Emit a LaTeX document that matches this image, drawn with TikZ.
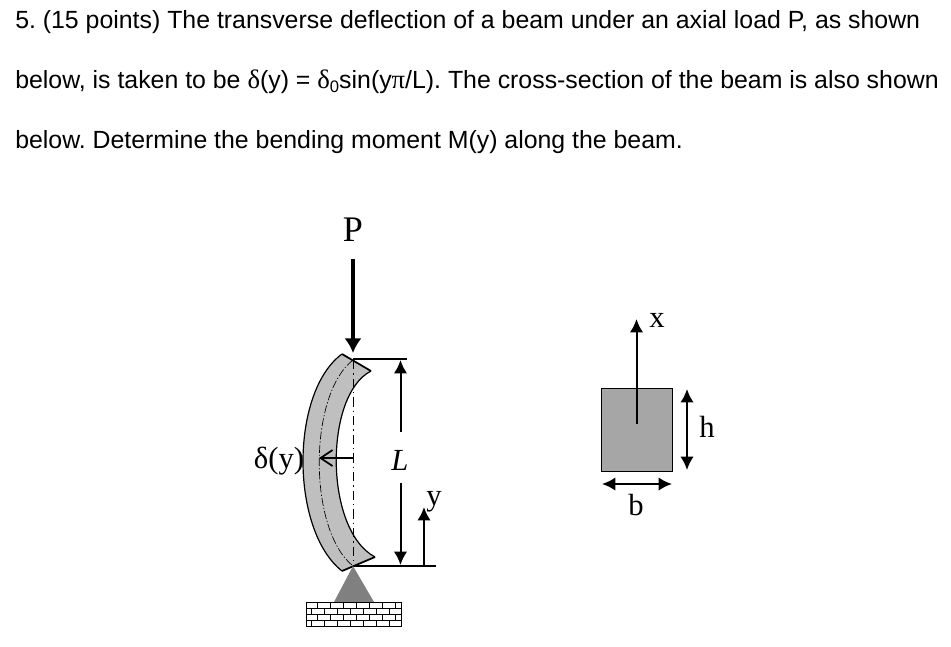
\documentclass[tikz,border=0pt]{standalone}
\usepackage{fontspec}
\setmainfont{Liberation Sans}
\newfontfamily\serifgr{Liberation Serif}
\usetikzlibrary{arrows.meta}
\tikzset{
  txtline/.style={anchor=base west,inner sep=0pt,font=\fontsize{18.65}{20}\selectfont},
  lab/.style={inner sep=0pt,font=\serifgr\fontsize{23}{25}\selectfont},
  dim/.style={line width=1.5pt,-{Latex[length=10pt,width=10pt]}},
  thin line/.style={line width=0.9pt}
}
\newcommand{\gr}[1]{{\serifgr\fontsize{20}{20}\selectfont #1}}
\frenchspacing
\begin{document}
\begin{tikzpicture}[x=0.75pt,y=-0.75pt]
  \useasboundingbox (0,0) rectangle (951,647);
  % problem text
  \node[txtline] (line1) at (15,28) {5. (15 points) The transverse deflection of a beam under an axial load P, as shown};
  \node[txtline] (line2) at (15,88) {below, is taken to be \gr{δ}(y) = \gr{δ}\raisebox{-3pt}{\fontsize{12.5}{12}\selectfont 0}sin(y\gr{π}/L). The cross-section of the beam is also shown};
  \node[txtline] (line3) at (15,148) {below. Determine the bending moment M(y) along the beam.};
  % beam
  \coordinate (tl) at (342,354);
  \coordinate (tr) at (371,371);
  \coordinate (bl) at (342,571);
  \coordinate (br) at (375,557);
  \coordinate (top) at (353,360);
  \coordinate (bot) at (353,566);
  \coordinate (mid) at (353,458);
  \coordinate (defl) at (319,458);
  \fill[black!25] (tl) .. controls (290,392) and (290,530) .. (bl) -- (br)
    .. controls (324,530) and (324,395) .. (tr) -- cycle;
  \draw[thin line] (tl) .. controls (290,392) and (290,530) .. (bl);
  \draw[thin line] (br) .. controls (324,530) and (324,395) .. (tr);
  \draw[line width=1.3pt] (tl) -- (tr);
  \draw[line width=1.3pt] (bl) -- (br);
  \draw[line width=0.5pt,dash pattern=on 6pt off 1.5pt on 1pt off 1.5pt] (top) .. controls (308,395) and (308,530) .. (bot);
  \draw[line width=0.6pt,dash pattern=on 7pt off 3pt on 1pt off 3pt] (top) -- (bot);
  \draw[line width=1.3pt,-{Straight Barb[length=9pt,width=12pt]}] (mid) -- (defl);
  % load
  \node[lab,font=\serifgr\fontsize{27}{29}\selectfont] (loadlab) at (353,230) {P};
  \coordinate (loadtop) at (353,259);
  \draw[line width=3.4pt,-{Latex[length=11pt,width=13pt]}] (loadtop) -- (353,353);
  % length and y axis
  \coordinate (tickt) at (407,359);
  \coordinate (tickb) at (436,566);
  \draw[line width=1.3pt] (top |- tickt) -- (tickt);
  \draw[line width=1.3pt] (bot) -- (tickb);
  \node[lab,font=\serifgr\itshape\fontsize{23}{25}\selectfont] (lenlab) at (400,460) {L};
  \draw[dim] (400.5,432) -- (400.5,360);
  \draw[dim] (400.5,483) -- (400.5,565);
  \draw[dim] (424,566) -- (424,507);
  \node[lab] (ylab) at (434,502) {y};
  \node[lab] (defllab) at (279,461) {δ(y)};
  % support
  \fill[black!50] (353,566) -- (374,602) -- (334,602) -- cycle;
  \draw[line width=0.7pt] (306.5,602.5) rectangle (401,626);
  \foreach \y in {608,614,620} \draw[line width=0.7pt] (306.5,\y) -- (401,\y);
  \foreach \x in {317,330,343,356,369,382,395} {
   \draw[line width=0.7pt] (\x,602.5) -- (\x,608);
   \draw[line width=0.7pt] (\x,614) -- (\x,620);
  }
  \foreach \x in {311,324,337,350,363,376,389} {
   \draw[line width=0.7pt] (\x,608) -- (\x,614);
   \draw[line width=0.7pt] (\x,620) -- (\x,626);
  }
  % cross-section
  \node[draw,thin line,fill=black!35,minimum width=53.2pt,minimum height=62pt,inner sep=0pt,anchor=north west] (sect) at (600.8,388) {};
  \draw[dim] (636.5,424) -- (636.5,319);
  \node[lab] (xlab) at (657,320) {x};
  \draw[dim,{Latex[length=10pt,width=10pt]}-{Latex[length=10pt,width=10pt]}] (687,389) -- (687,470);
  \node[lab] (hlab) at (707,427) {h};
  \draw[dim,{Latex[length=10pt,width=10pt]}-{Latex[length=10pt,width=10pt]}] (602,484) -- (672,484);
  \node[lab] (blab) at (636,505) {b};
\end{tikzpicture}
\end{document}
